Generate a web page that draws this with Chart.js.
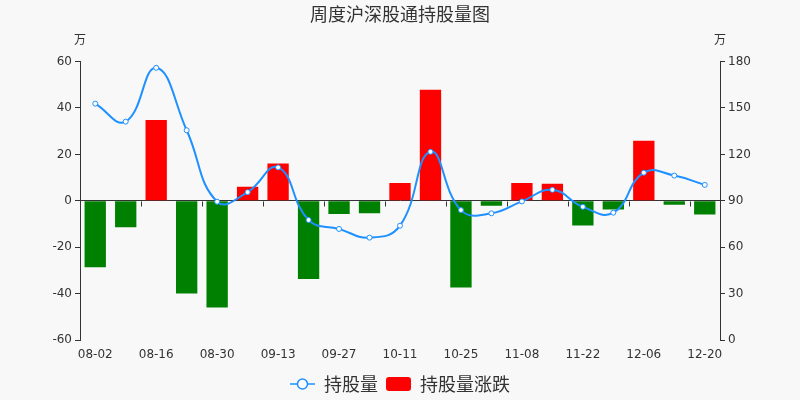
<!DOCTYPE html>
<html>
<head>
<meta charset="utf-8">
<script src="https://cdn.jsdelivr.net/npm/chart.js@4.4.1/dist/chart.umd.min.js"></script>
<style>
  html, body { margin: 0; padding: 0; background: #f8f8f8; }
  #wrap { width: 800px; height: 400px; }
</style>
</head>
<body>
<div id="wrap"><canvas id="c" width="800" height="400"></canvas></div>
<script>
// weekly dates
const weeks = ['08-02', '08-09', '08-16', '08-23', '08-30', '09-06', '09-13', '09-20', '09-27', '10-04', '10-11',
               '10-18', '10-25', '11-01', '11-08', '11-15', '11-22', '11-29', '12-06', '12-13', '12-20']
// holdings (万), right axis
const holdings = [152.8, 141.2, 176.0, 135.6, 89.4, 95.6, 111.6, 77.6, 71.8, 66.2, 73.9,
                  121.7, 84.0, 81.9, 89.6, 97.1, 86.1, 82.3, 108.2, 106.3, 100.3]
// weekly change (万), left axis
const changes = [-28.6, -11.4, 34.8, -40.0, -46.0, 6.1, 16.1, -33.7, -5.7, -5.4, 7.7,
                 47.9, -37.4, -2.1, 7.7, 7.4, -10.7, -3.7, 25.9, -1.7, -5.9]
const leftTicks = { min: -60, max: 60, step: 20 }
const rightTicks = { min: 0, max: 180, step: 30 }

const txt = '#333'
const blue = '#1e90ff'
const fontFamily = "'DejaVu Sans', 'Noto Sans CJK SC', sans-serif"
const cjkFont = "'Noto Sans CJK SC', sans-serif"

function lineIcon() {
    const cv = document.createElement('canvas')
    cv.width = 25; cv.height = 12
    const g = cv.getContext('2d')
    g.strokeStyle = blue
    g.lineWidth = 1.5
    g.beginPath(); g.moveTo(0, 6); g.lineTo(25, 6); g.stroke()
    g.fillStyle = '#fff'
    g.beginPath(); g.arc(12.5, 6, 5, 0, Math.PI * 2); g.fill(); g.stroke()
    return cv
}
function barIcon() {
    const cv = document.createElement('canvas')
    cv.width = 25; cv.height = 14
    const g = cv.getContext('2d')
    g.fillStyle = '#ff0000'
    g.beginPath(); g.roundRect(0, 0, 25, 14, 3); g.fill()
    return cv
}

// unit labels and ticks on the zero line
const extras = {
    id: 'extras',
    afterDraw(chart) {
        const { ctx, scales } = chart
        const x = scales.x, y = scales.y, y1 = scales.y1
        ctx.save()
        ctx.fillStyle = txt
        ctx.font = '12px ' + cjkFont
        ctx.textAlign = 'center'
        ctx.textBaseline = 'middle'
        ctx.fillText('万', y.right, 39)
        ctx.fillText('万', y1.left, 39)
        const zero = Math.round(y.getPixelForValue(0)) + 0.5
        ctx.strokeStyle = txt
        ctx.lineWidth = 1
        ctx.beginPath()
        for (let i = 0; i < weeks.length; i += 2) {
            const px = Math.round(x.getPixelForValue(i - 0.5)) + 0.5
            ctx.moveTo(px, zero); ctx.lineTo(px, zero + 5)
        }
        ctx.stroke()
        ctx.restore()
    }
}

const config = {
    data: {
        labels: weeks,
        datasets: [
            {
                type: 'line',
                label: '持股量',
                data: holdings,
                yAxisID: 'y1',
                borderColor: blue,
                borderWidth: 2,
                tension: 0.45,
                pointRadius: 2.5,
                pointBorderWidth: 1,
                pointBackgroundColor: '#fff',
                pointBorderColor: blue,
                order: 0
            },
            {
                type: 'bar',
                label: '持股量涨跌',
                data: changes,
                yAxisID: 'y',
                backgroundColor: changes.map(v => v >= 0 ? '#ff0000' : '#008000'),
                barPercentage: 0.7,
                categoryPercentage: 1,
                order: 1
            }
        ]
    },
    options: {
        responsive: false,
        animation: false,
        layout: { padding: { top: 0, left: 0, right: 0, bottom: -3 } },
        plugins: {
            title: {
                display: true,
                text: '周度沪深股通持股量图',
                color: txt,
                font: { family: cjkFont, size: 18, weight: 'normal' },
                padding: { top: 3, bottom: 37 }
            },
            legend: {
                position: 'bottom',
                labels: {
                    color: txt,
                    font: { family: cjkFont, size: 18 },
                    usePointStyle: true,
                    pointStyleWidth: 25,
                    boxHeight: 14,
                    padding: 8,
                    generateLabels: () => [
                        { text: '持股量', pointStyle: lineIcon(), fontColor: txt, datasetIndex: 0 },
                        { text: '持股量涨跌', pointStyle: barIcon(), fontColor: txt, datasetIndex: 1 }
                    ]
                }
            },
            tooltip: { enabled: false }
        },
        scales: {
            x: {
                grid: { display: false, drawTicks: false },
                border: { display: false },
                ticks: {
                    autoSkip: false,
                    maxRotation: 0,
                    padding: 8,
                    color: txt,
                    font: { family: fontFamily, size: 12 },
                    callback: (v, i) => i % 2 === 0 ? weeks[i] : ''
                },
                afterFit: s => { s.height = 27 }
            },
            y: {
                position: 'left',
                min: leftTicks.min,
                max: leftTicks.max,
                ticks: { stepSize: leftTicks.step, color: txt, padding: 3, font: { family: fontFamily, size: 12 } },
                grid: {
                    color: c => c.tick && c.tick.value === 0 ? txt : 'rgba(0,0,0,0)',
                    tickColor: txt,
                    tickLength: 5
                },
                border: { color: txt },
                afterFit: s => { s.width = 80 }
            },
            y1: {
                position: 'right',
                min: rightTicks.min,
                max: rightTicks.max,
                ticks: { stepSize: rightTicks.step, color: txt, padding: 3, font: { family: fontFamily, size: 12 } },
                grid: { drawOnChartArea: false, tickColor: txt, tickLength: 5 },
                border: { color: txt },
                afterFit: s => { s.width = 80 }
            }
        }
    },
    plugins: [extras]
}

new Chart(document.getElementById('c').getContext('2d'), config)
</script>
</body>
</html>
